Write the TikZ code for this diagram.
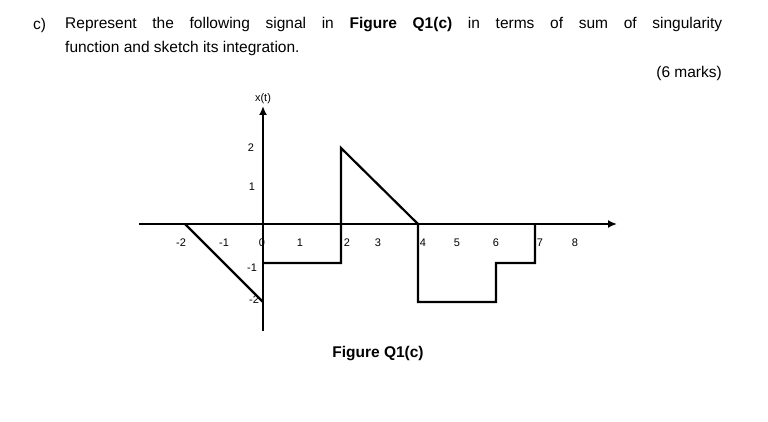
\documentclass[tikz,border=0pt]{standalone}
\usepackage{fontspec}
\setmainfont{Liberation Sans}
\usetikzlibrary{arrows.meta}
\begin{document}
\begin{tikzpicture}[x=1pt,y=-1pt,
  sig/.style={line width=2.2pt},
  ax/.style={line width=2.2pt,-{Latex[length=9pt,width=8pt]}},
  tk/.style={font=\fontsize{11}{13}\selectfont,inner sep=1pt},
  txt/.style={font=\fontsize{15.5}{18}\selectfont,anchor=west,inner sep=0pt}]
\useasboundingbox (0,0) rectangle (768,422);
\node[txt] (c) at (33,25) {c)};
\node[txt] (l1) at (65,25) {\makebox[657pt][s]{Represent the following signal in \textbf{Figure Q1(c)} in terms of sum of singularity}};
\node[txt] (l2) at (65,48) {function and sketch its integration.};
\node[txt,anchor=east] (mk) at (722,73) {(6 marks)};
\coordinate (xs) at (139,224); \coordinate (xe) at (617,224);
\coordinate (ys) at (263,331); \coordinate (ye) at (263,106);
\draw[ax] (xs) -- (xe);
\draw[ax] (ys) -- (ye);
\node[tk] (xt) at (263,99) {x(t)};
\draw[sig] (185,224) -- (263,302);
\draw[sig] (263,263) -- (341,263) -- (341,148) -- (418,224) -- (418,302) -- (496,302) -- (496,263) -- (535,263) -- (535,224);
\foreach \v/\x in {-2/181,-1/224,0/262,1/300,2/347,3/378,4/423,5/457,6/496,7/540,8/575}
  \node[tk] (t\x) at (\x,243) {\v};
\node[tk] (y2) at (251,148) {2};
\node[tk] (y1) at (252,187) {1};
\node[tk] (ym1) at (252,268) {-1};
\node[tk] (ym2) at (254,300) {-2};
\node[font=\bfseries\fontsize{15.5}{18}\selectfont] (fig) at (378,354) {Figure Q1(c)};
\end{tikzpicture}
\end{document}
